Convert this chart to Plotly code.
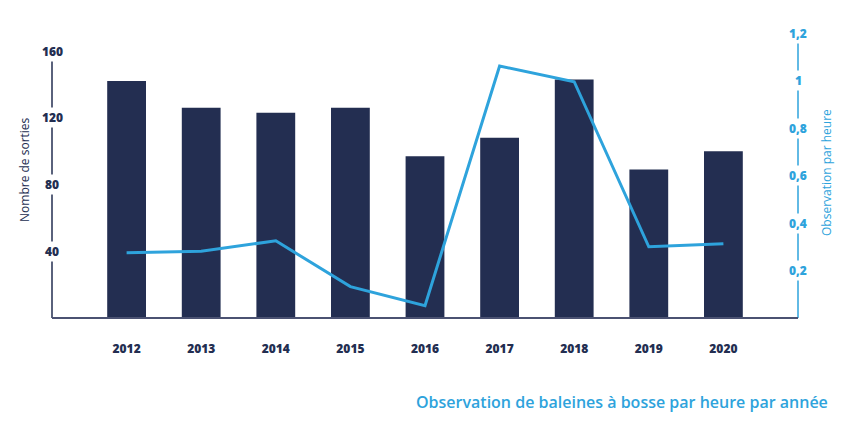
import plotly.graph_objects as go

years = ["2012", "2013", "2014", "2015", "2016", "2017", "2018", "2019", "2020"]
sorties = [142, 126, 123, 126, 97, 108, 143, 89, 100]
obs_par_heure = [0.275, 0.281, 0.325, 0.132, 0.052, 1.061, 0.995, 0.30, 0.313]
left_ticks = [40, 80, 120, 160]
left_tick_text = ["40", "80", "120", "160"]
right_ticks = [0.2, 0.4, 0.6, 0.8, 1.0, 1.2]
right_tick_text = ["0,2", "0,4", "0,6", "0,8", "1", "1,2"]

NAVY = "#232e51"
BLUE = "#2ea3dc"
FONT = "Open Sans"

fig = go.Figure()
fig.add_trace(go.Bar(x=years, y=sorties, marker=dict(color=NAVY, line=dict(width=0)),
                     width=0.52, yaxis="y", showlegend=False, hoverinfo="x+y"))
fig.add_trace(go.Scatter(x=years, y=obs_par_heure, mode="lines",
                         line=dict(color=BLUE, width=3), yaxis="y2", showlegend=False))

shapes = [
    dict(type="line", xref="paper", yref="y", x0=0, x1=0, y0=0, y1=left_ticks[-1],
         line=dict(color=NAVY, width=1.5), layer="above"),
    dict(type="line", xref="paper", yref="y2", x0=1, x1=1, y0=0, y1=right_ticks[-1],
         line=dict(color=BLUE, width=1.5), layer="above"),
    dict(type="line", xref="paper", yref="paper", x0=0, x1=1, y0=0, y1=0,
         line=dict(color="#4b5272", width=2), layer="above"),
]

annotations = []
for v, t in zip(left_ticks, left_tick_text):
    annotations.append(dict(xref="paper", yref="y", x=0, y=v, text=t, showarrow=False,
                            xanchor="center", yanchor="middle", bgcolor="white", borderpad=1,
                            font=dict(family=FONT, size=12, color=NAVY, weight=800)))
for v, t in zip(right_ticks, right_tick_text):
    annotations.append(dict(xref="paper", yref="y2", x=1, y=v, text=t, showarrow=False,
                            xanchor="center", yanchor="middle", bgcolor="white", borderpad=1,
                            font=dict(family=FONT, size=12, color=BLUE, weight=800)))
annotations.append(dict(xref="paper", yref="paper", x=-0.036, y=0.52, text="Nombre de sorties",
                        textangle=-90, showarrow=False, xanchor="center", yanchor="middle",
                        font=dict(family=FONT, size=12, color=NAVY, weight=500)))
annotations.append(dict(xref="paper", yref="paper", x=1.038, y=0.51, text="Observation par heure",
                        textangle=-90, showarrow=False, xanchor="center", yanchor="middle",
                        font=dict(family=FONT, size=12, color=BLUE, weight=500)))
annotations.append(dict(xref="paper", yref="paper", x=1.043, y=-0.295, showarrow=False,
                        text="Observation de baleines à bosse par heure par année",
                        xanchor="right", yanchor="middle",
                        font=dict(family=FONT, size=16, color=BLUE, weight=600)))

fig.update_layout(
    width=856, height=438,
    margin=dict(l=52, r=58, t=33, b=120),
    paper_bgcolor="white", plot_bgcolor="white",
    xaxis=dict(type="category", range=[-1, 9], showgrid=False, showline=False, zeroline=False,
               ticks="outside", ticklen=20, tickcolor="rgba(0,0,0,0)",
               tickfont=dict(family=FONT, size=12, color=NAVY, weight=800)),
    yaxis=dict(range=[0, 170.8], showgrid=False, showline=False, zeroline=False,
               showticklabels=False, ticks=""),
    yaxis2=dict(range=[0, 1.2], overlaying="y", side="right", showgrid=False, showline=False,
                zeroline=False, showticklabels=False, ticks=""),
    shapes=shapes, annotations=annotations,
)

fig.write_html("out.html")
